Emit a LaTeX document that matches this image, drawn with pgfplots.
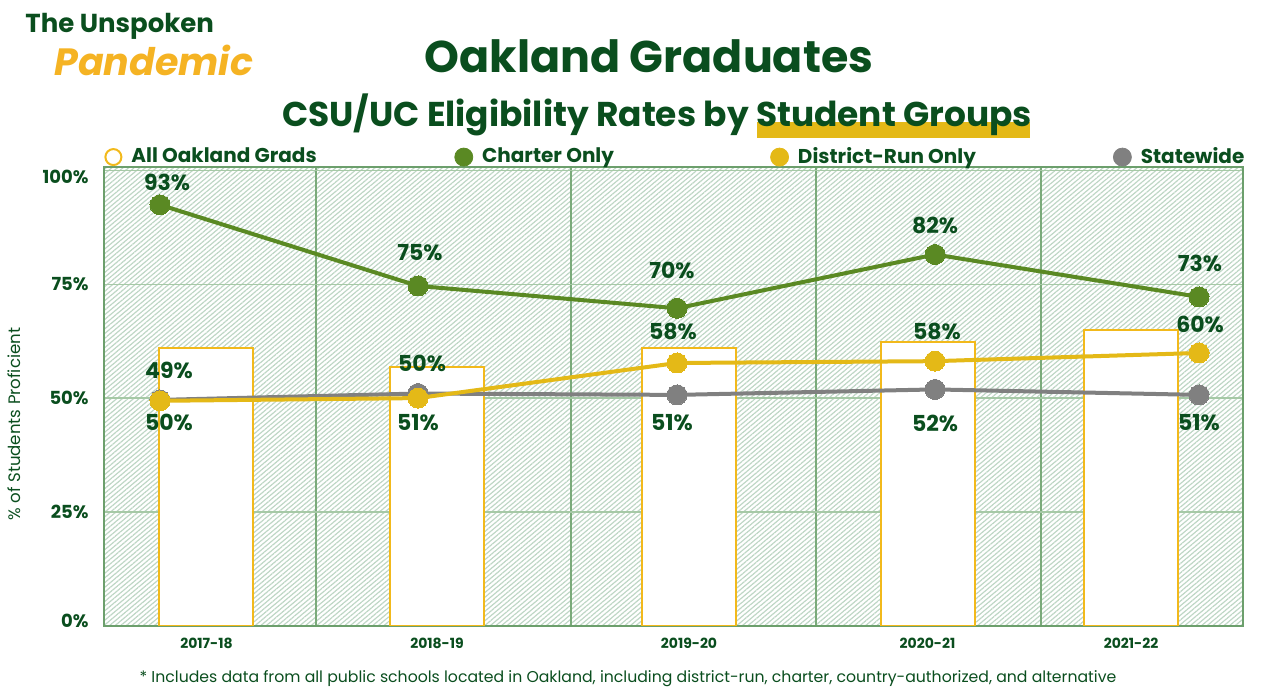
\documentclass[border=0pt]{standalone}
\usepackage{pgfplots}
\usepackage{pgfplotstable}
\pgfplotsset{compat=1.18}
\usepackage{fontspec}
\setmainfont{Poppins}
\usetikzlibrary{patterns.meta}
\definecolor{dgreen}{RGB}{10,78,30}
\definecolor{charter}{RGB}{90,137,35}
\definecolor{district}{RGB}{228,185,23}
\definecolor{baryel}{RGB}{242,185,27}
\definecolor{stat}{RGB}{128,128,128}
\definecolor{frame}{RGB}{108,159,108}
\definecolor{vgrid}{RGB}{122,170,122}
\definecolor{hgrid}{RGB}{166,201,166}
\definecolor{hatch}{RGB}{190,214,197}
\definecolor{logoyel}{RGB}{245,179,35}
\pgfplotstableread{
x y lab dx dy
160 49.6 50 4.5 -11.5
418 51.0 51 0 -14.75
677 50.7 51 -2.5 -14
935 51.9 52 0 -16.8
1199 50.7 51 0 -14
}\statewide
\pgfplotstableread{
x y lab dx dy
160 49.4 49 4.5 15
418 50.0 50 2 17.5
677 57.7 58 -2 16
935 58.1 58 1 15
1199 59.9 60 0.5 14.5
}\district
\pgfplotstableread{
x y lab dx dy
160 92.4 93 3.5 11
418 74.6 75 1 16.5
677 69.7 70 -2.5 19
935 81.5 82 0 14.5
1199 72.2 73 0.5 16.5
}\charter
\begin{document}
\begin{tikzpicture}
\useasboundingbox (0,0) rectangle (640pt,347pt);
% logo
\node[anchor=base west, inner sep=0pt, text=dgreen, font=\fontsize{13}{13}\selectfont\bfseries] at (12.5pt,330.5pt) {The Unspoken};
\node[anchor=base west, inner sep=0pt, text=logoyel, font=\fontsize{19}{19}\selectfont\bfseries\itshape] at (27pt,309pt) {Pandemic};
% titles
\fill[district] (378.5pt,278pt) rectangle (515pt,286pt);
\node[anchor=base, inner sep=0pt, text=dgreen, font=\fontsize{22.2}{22.2}\selectfont\bfseries] at (324.5pt,310.5pt) {Oakland Graduates};
\node[anchor=base, inner sep=0pt, text=dgreen, font=\fontsize{17.2}{17.2}\selectfont\bfseries] at (328.5pt,283.5pt) {CSU/UC Eligibility Rates by Student Groups};
% footnote
\node[anchor=base, inner sep=0pt, text=dgreen, font=\fontsize{7.85}{7.85}\selectfont] at (314pt,5.5pt) {* Includes data from all public schools located in Oakland, including district-run, charter, country-authorized, and alternative};
\begin{axis}[
  at={(52pt,34pt)}, anchor=south west,
  scale only axis, width=569.5pt, height=229.5pt,
  xmin=104, xmax=1243, ymin=0, ymax=100.7,
  axis background/.style={pattern={Lines[angle=40,distance=1.8pt,line width=0.6pt]}, pattern color=hatch},
  axis line style={draw=frame, line width=0.8pt},
  xtick={316,571,816,1041}, xticklabels={},
  extra x ticks={206.5,437,689,927.5,1131},
  extra x tick labels={2017-18,2018-19,2019-20,2020-21,2021-22},
  extra x tick style={grid=none},
  major tick length=0pt,
  xmajorgrids, ymajorgrids,
  x grid style={draw=vgrid, line width=0.6pt},
  y grid style={draw=hgrid, line width=0.6pt},
  ytick={0,25,50,75,100},
  yticklabels={\raisebox{2.5pt}{0\%},25\%,50\%,75\%,\raisebox{-3.5pt}{100\%}},
  xticklabel style={font=\fontsize{7}{7}\selectfont\bfseries, text=dgreen, inner sep=0pt, anchor=north, yshift=-6pt},
  yticklabel style={font=\fontsize{9}{9}\selectfont\bfseries, text=dgreen, inner sep=0pt, anchor=base east, xshift=-7.5pt, yshift=-3.25pt},
  ylabel={\% of Students Proficient},
  ylabel style={font=\fontsize{8.3}{8.3}\selectfont, text=dgreen, at={(axis description cs:-0.079,0.44)}, anchor=center, rotate=0},
  legend columns=4,
  legend style={at={(rel axis cs:0,1)}, anchor=south west, draw=none, fill=none, inner sep=0pt, yshift=0pt,
    nodes={inner sep=0pt, text=dgreen, font=\fontsize{10}{10}\selectfont\bfseries},
    cells={anchor=west},
    /tikz/every odd column/.style={column sep=4.5pt},
    /tikz/every even column/.style={column sep=0pt}},
]
\addplot[ybar, bar width=94, bar shift=0pt, draw=baryel, fill=white, line width=1pt, forget plot]
  coordinates {(206.5,61.0) (437,56.8) (689,61.0) (927.5,62.3) (1131,64.9)};
\addplot[stat, line width=2pt, mark=*, mark size=5pt, mark options={fill=stat, draw=stat, line width=0pt}, forget plot,
  point meta=explicit symbolic, nodes near coords={\pgfplotspointmeta\%},
  visualization depends on={\thisrow{dx} \as \dxv}, visualization depends on={\thisrow{dy} \as \dyv},
  every node near coord/.append style={anchor=center, xshift=\dxv pt, yshift=\dyv pt, inner sep=0pt, text=dgreen, font=\fontsize{11}{11}\selectfont\bfseries}]
  table[x=x, y=y, meta=lab] {\statewide};
\addplot[district, line width=2pt, mark=*, mark size=5pt, mark options={fill=district, draw=district, line width=0pt}, forget plot,
  point meta=explicit symbolic, nodes near coords={\pgfplotspointmeta\%},
  visualization depends on={\thisrow{dx} \as \dxv}, visualization depends on={\thisrow{dy} \as \dyv},
  every node near coord/.append style={anchor=center, xshift=\dxv pt, yshift=\dyv pt, inner sep=0pt, text=dgreen, font=\fontsize{11}{11}\selectfont\bfseries}]
  table[x=x, y=y, meta=lab] {\district};
\addplot[charter, line width=2pt, mark=*, mark size=5pt, mark options={fill=charter, draw=charter, line width=0pt}, forget plot,
  point meta=explicit symbolic, nodes near coords={\pgfplotspointmeta\%},
  visualization depends on={\thisrow{dx} \as \dxv}, visualization depends on={\thisrow{dy} \as \dyv},
  every node near coord/.append style={anchor=center, xshift=\dxv pt, yshift=\dyv pt, inner sep=0pt, text=dgreen, font=\fontsize{11}{11}\selectfont\bfseries}]
  table[x=x, y=y, meta=lab] {\charter};
\addlegendimage{legend image code/.code={\draw[draw=baryel, line width=1pt, fill=white] (4.5pt,0pt) circle (4pt);}}
\addlegendentry{\makebox[161.5pt][l]{All Oakland Grads}}
\addlegendimage{legend image code/.code={\fill[charter] (4.5pt,0pt) circle (4.5pt);}}
\addlegendentry{\makebox[144pt][l]{Charter Only}}
\addlegendimage{legend image code/.code={\fill[district] (4.5pt,0pt) circle (4.5pt);}}
\addlegendentry{\makebox[157.5pt][l]{District-Run Only}}
\addlegendimage{legend image code/.code={\fill[stat] (4.5pt,0pt) circle (4.5pt);}}
\addlegendentry{Statewide}
\end{axis}
\end{tikzpicture}
\end{document}
